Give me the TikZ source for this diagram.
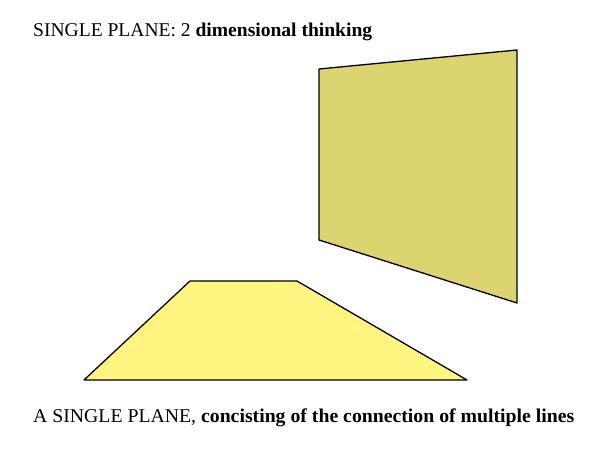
\documentclass[tikz,border=0pt]{standalone}
\usepackage{fontspec}
\setmainfont{Liberation Serif}
\usepackage{graphicx}
\definecolor{wallfill}{RGB}{220,212,112}
\definecolor{floorfill}{RGB}{255,245,128}
\tikzset{
  plane/.style={draw=black, line width=1.3pt, line join=round},
  caption/.style={anchor=base west, inner sep=0pt, font=\fontsize{19.5}{20}\selectfont}
}
\begin{document}
\begin{tikzpicture}[x=1pt,y=-1pt]
\useasboundingbox (0,0) rectangle (600,449);
% wall plane
\coordinate (w1) at (319,69);
\coordinate (w2) at (517,50);
\coordinate (w3) at (517,303);
\coordinate (w4) at (319,240);
\filldraw[plane, fill=wallfill] (w1) -- (w2) -- (w3) -- (w4) -- cycle;
% floor plane
\coordinate (f1) at (190,281);
\coordinate (f2) at (297,281);
\coordinate (f3) at (467,380);
\coordinate (f4) at (84,380);
\filldraw[plane, fill=floorfill] (f1) -- (f2) -- (f3) -- (f4) -- cycle;
% texts
\node[caption] (top) at (33,37) {\resizebox{339pt}{\height}{SINGLE PLANE: 2 \textbf{dimensional thinking}}};
\node[caption] (bottom) at (33,422) {\resizebox{541pt}{\height}{A SINGLE PLANE, \textbf{concisting of the connection of multiple lines}}};
\end{tikzpicture}
\end{document}
